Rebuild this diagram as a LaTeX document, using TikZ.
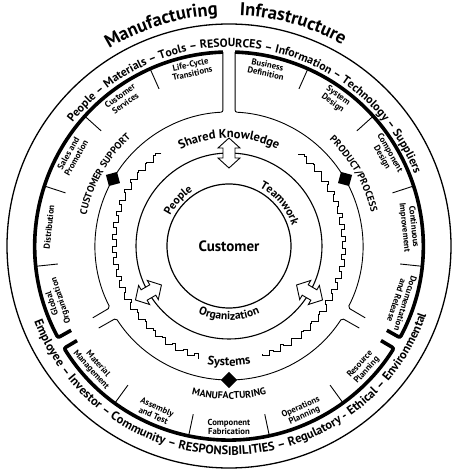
\documentclass[tikz,border=0pt]{standalone}
\usepackage{fontspec}
\setmainfont{PT Sans}
\usetikzlibrary{decorations.text}

\tikzset{
  ringtext/.style={decorate, decoration={text along path, text align=center, text={#1}}},
  sublabel/.style={align=center, inner sep=0pt, font=\bfseries\fontsize{8.7}{9.2}\selectfont},
  thinline/.style={line width=0.9pt},
  thickline/.style={line width=3.6pt},
  flow/.style={thinline, fill=white, line join=miter},
  knot/.style={fill=black, inner sep=0pt, minimum size=11.5pt}
}

\begin{document}
\begin{tikzpicture}[x=1pt, y=1pt]
\path[use as bounding box, fill=white] (-229,-227) rectangle (232,246);

% Circles
\draw[line width=1.3pt] (0,0) circle (222);
\draw[line width=1.1pt] (0,0) circle (93);
\draw[line width=1.2pt] (0,0) circle (62);
\node[font=\bfseries\fontsize{15}{17}\selectfont] (customer) at (0,0) {Customer};

% Infrastructure ring
\path[ringtext={|\bfseries\fontsize{18.5}{21}\selectfont|Manufacturing}] (137:231) arc[start angle=137, end angle=77, radius=231];
\path[ringtext={|\bfseries\fontsize{18.5}{21}\selectfont|Infrastructure}] (104:231) arc[start angle=104, end angle=44, radius=231];
\path[ringtext={|\bfseries\fontsize{11.8}{13}\selectfont|People – Materials – Tools – RESOURCES – Information – Technology – Suppliers}] (162:199) arc[start angle=162, end angle=1, radius=199];
\path[ringtext={|\bfseries\fontsize{12.4}{13}\selectfont|Employee – Investor – Community – RESPONSIBILITIES – Regulatory - Ethical – Environmental}] (188:209) arc[start angle=188, end angle=354, radius=209];

% Process sectors
\draw[thickline, rounded corners=2pt] (208.1:179) -- (208.2:194) arc[start angle=208.2, end angle=91.8, radius=194];
\draw[thinline, rounded corners=2pt] (91.8:194) -- (92.6:134) arc[start angle=92.6, end angle=207.4, radius=134] -- (207.8:154);
\draw[thickline, rounded corners=2pt] (-28.1:179) -- (-28.2:194) arc[start angle=-28.2, end angle=88.2, radius=194];
\draw[thinline, rounded corners=2pt] (88.2:194) -- (87.4:134) arc[start angle=87.4, end angle=-27.4, radius=134] -- (-27.8:154);
\draw[thickline, rounded corners=2pt] (211.9:179) -- (211.8:194) arc[start angle=211.8, end angle=328.2, radius=194] -- (328.1:179);
\draw[thinline, rounded corners=2pt] (212.2:154) -- (212.6:134) arc[start angle=212.6, end angle=327.4, radius=134] -- (327.8:154);
\foreach \a in {114,138,162,186,66,42,18,-6,234,258,282,306}
  \draw[thinline] (\a:172) -- (\a:193);

\path[ringtext={|\bfseries\fontsize{9.8}{11}\selectfont|CUSTOMER SUPPORT}] (185:146) arc[start angle=185, end angle=115, radius=146];
\path[ringtext={|\bfseries\fontsize{9.8}{11}\selectfont|PRODUCT/PROCESS}] (65:146) arc[start angle=65, end angle=-5, radius=146];
\path[ringtext={|\bfseries\fontsize{9.8}{11}\selectfont|MANUFACTURING}] (235:153) arc[start angle=235, end angle=305, radius=153];

\foreach \a/\t [count=\i] in {102/Life-Cycle\\Transitions, 126/Customer\\Services, 150/Sales and\\Promotion, 174/Distribution, 198/Global\\Organization, 78/Business\\Definition, 54/System\\Design, 30/Component\\Design, 6/Continuous\\Improvement, -18/Documentation\\and Release}
  \node[sublabel, rotate=\a-90] (sub\i) at (\a:181) {\t};
\foreach \a/\t [count=\i from 11] in {222/Material\\Management, 246/Assembly\\and Test, 270/Component\\Fabrication, 294/Operations\\Planning, 318/Resource\\Planning}
  \node[sublabel, rotate=\a+90] (sub\i) at (\a:181) {\t};

\foreach \a/\n in {150/csknot, 30/ppknot, 270/mfgknot}
  \node[knot, rotate=\a+45] (\n) at (\a:134) {};

% Knowledge and systems ring
\draw[thinline] (126:115) foreach \a [count=\i, evaluate=\i as \rad using {115+2*(2*mod(\i,2)-1)}] in {129,132,...,255} { -| (\a:\rad) };
\draw[thinline] (53:115) foreach \a [count=\i, evaluate=\i as \rad using {115+2*(2*mod(\i,2)-1)}] in {50,47,...,-73} { -| (\a:\rad) };
\path[ringtext={|\bfseries\fontsize{12.5}{14}\selectfont|Shared Knowledge}] (140:108) arc[start angle=140, end angle=40, radius=108];
\path[ringtext={|\bfseries\fontsize{12.5}{14}\selectfont|Systems}] (235:120) arc[start angle=235, end angle=305, radius=120];

% People ring
\path[ringtext={|\bfseries\fontsize{11.5}{13}\selectfont|People}] (172:66) arc[start angle=172, end angle=104, radius=66];
\path[ringtext={|\bfseries\fontsize{11.5}{13}\selectfont|Teamwork}] (78:66) arc[start angle=78, end angle=2, radius=66];
\path[ringtext={|\bfseries\fontsize{11.5}{13}\selectfont|Organization}] (220:74) arc[start angle=220, end angle=320, radius=74];

% Flows between rings
\foreach \a in {90,210,330}
  \draw[flow, rotate=\a] (78,0) -- (88,11) -- (88,6) -- (98,6) -- (98,11) -- (108,0) -- (98,-11) -- (98,-6) -- (88,-6) -- (88,-11) -- cycle;
\end{tikzpicture}
\end{document}
